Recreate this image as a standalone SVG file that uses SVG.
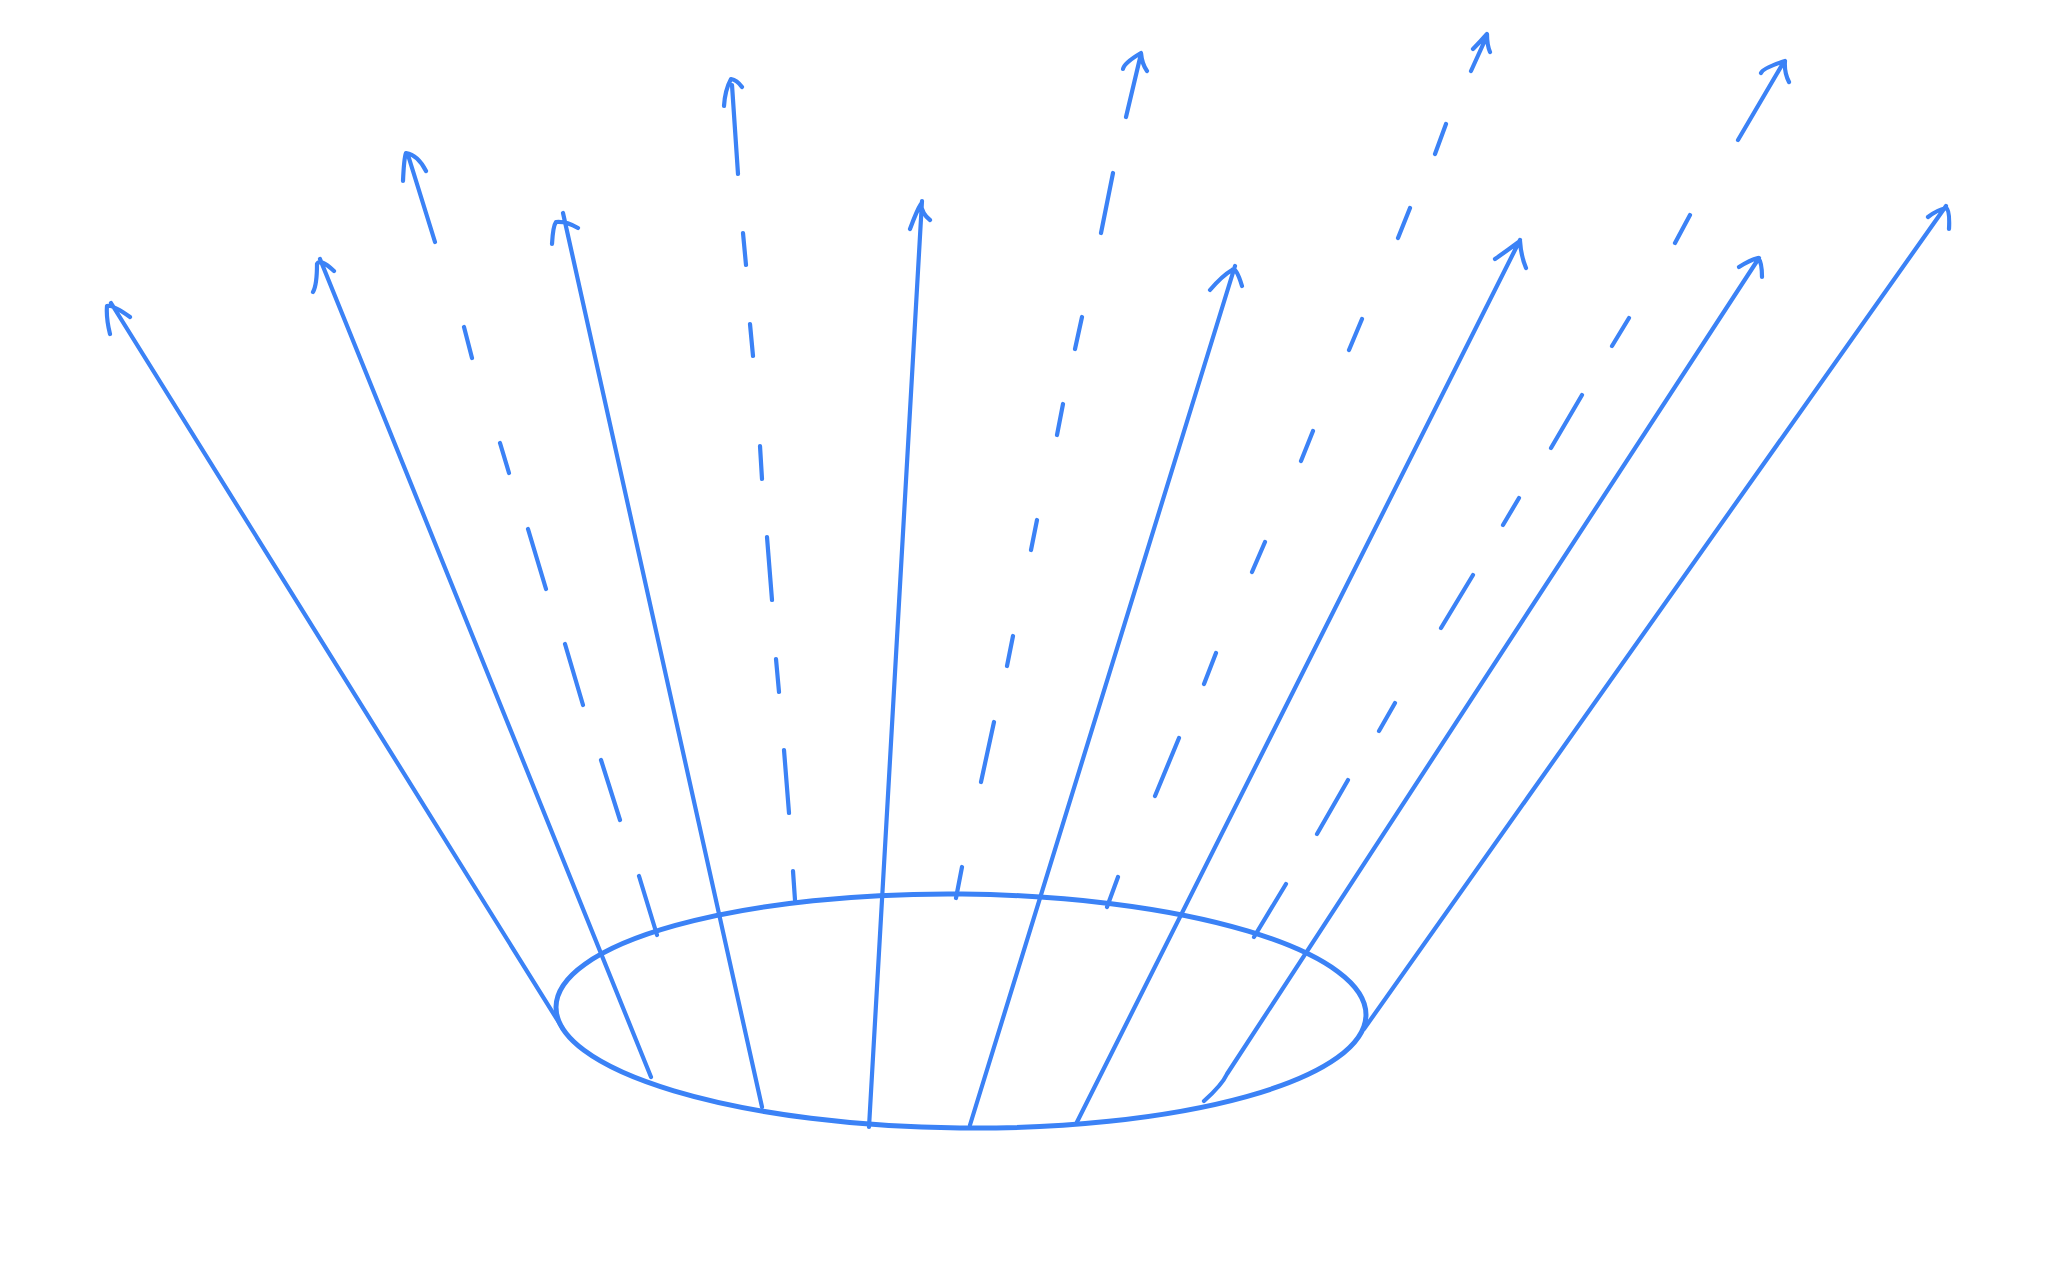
<svg xmlns="http://www.w3.org/2000/svg" width="2056" height="1263" viewBox="0 0 2056 1263">
<style>
.s{fill:none;stroke:#3b82f6;stroke-width:4.2;stroke-linecap:round;stroke-linejoin:round}
.e{fill:none;stroke:#3b82f6;stroke-width:5}
</style>
<rect width="2056" height="1263" fill="#ffffff"/>
<g id="base">
<ellipse class="e" cx="961" cy="1011" rx="405" ry="117" transform="rotate(0.57 961 1011)"/>
</g>
<g id="connectors">
<g id="solid1"><path class="s" d="M563 1029 L111 303 M110 334 Q106 318 107 306 Q112 304 130 317"/></g>
<g id="solid2"><path class="s" d="M651 1077 L320 259 M313 292 Q317 285 317 264 Q320 258 334 271"/></g>
<g id="solid3"><path class="s" d="M762 1107 L563 213 M552 244 Q553 226 556 222 Q566 221 578 228"/></g>
<g id="solid4"><path class="s" d="M869 1127 L922 201 M910 229 Q917 210 921 204 Q922 214 930 220"/></g>
<g id="solid5"><path class="s" d="M970 1125 L1235 266 M1210 290 Q1222 276 1232 270 Q1236 266 1242 286"/></g>
<g id="solid6"><path class="s" d="M1077 1122 L1520 240 M1495 259 Q1508 250 1520 241 Q1521 256 1526 268"/></g>
<g id="solid7"><path class="s" d="M1204 1101 Q1222 1085 1227 1074 L1759 258 M1739 267 Q1750 260 1758 258 Q1762 262 1762 277"/></g>
<g id="solid8"><path class="s" d="M1364 1029 L1946 206 M1928 217 Q1937 210 1946 208 Q1950 210 1949 229"/></g>
<g id="dashA"><path class="s" d="M403 181 Q404 158 406 153 Q418 155 426 171 M408 155 L435 242 M464 327 L472 358 M500 443 L509 473 M528 529 L546 589 M565 644 L583 705 M601 760 L620 820 M639 876 L657 935"/></g>
<g id="dashB"><path class="s" d="M724 106 Q725 90 731 79 Q737 80 742 87 M732 85 L738 174 M743 233 L746 265 M750 324 L753 356 M760 446 L762 479 M767 537 L772 600 M776 659 L779 692 M784 750 L789 813 M793 871 L795 900"/></g>
<g id="dashC"><path class="s" d="M1123 69 Q1124 63 1141 53 Q1142 64 1147 71 M1140 58 L1126 117 M1113 173 L1101 233 M1082 317 L1075 349 M1063 404 L1057 435 M1037 520 L1031 550 M1013 636 L1007 666 M994 722 L981 782 M962 867 L956 898"/></g>
<g id="dashD"><path class="s" d="M1473 49 Q1480 42 1487 34 Q1487 45 1490 52 M1486 38 L1471 71 M1446 124 L1435 154 M1410 208 L1398 238 M1362 319 L1349 350 M1313 431 L1301 461 M1265 542 L1252 572 M1216 653 L1204 684 M1179 738 L1155 796 M1118 877 L1107 907"/></g>
<g id="dashE"><path class="s" d="M1761 73 Q1763 68 1785 61 Q1784 72 1789 82 M1782 65 L1738 140 M1690 215 L1675 243 M1629 318 L1612 346 M1582 395 L1551 448 M1519 498 L1503 525 M1473 575 L1441 628 M1395 703 L1379 731 M1348 780 L1317 834 M1286 884 L1254 937"/></g>
</g>
</svg>
